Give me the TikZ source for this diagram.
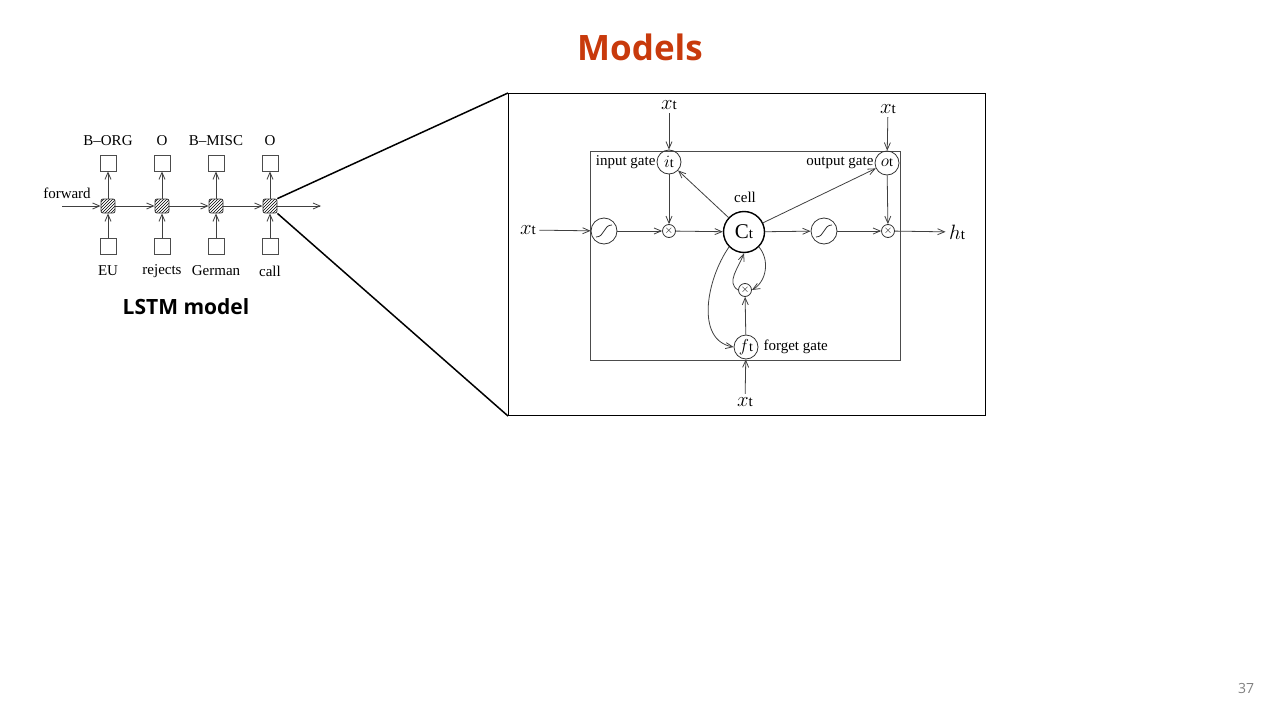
\documentclass[tikz,border=0pt]{standalone}
\usepackage{fontspec}
\setmainfont{Liberation Serif}
\newfontfamily\titlefont{Open Sans}[BoldFont={Open Sans Bold}]
\usetikzlibrary{arrows.meta,patterns,calc}
\definecolor{titlered}{HTML}{C83A0C}
\tikzset{
  lnk/.style={draw=black!75,line width=0.8pt,-{Straight Barb[length=7pt,width=6pt]}},
  tok/.style={draw=black!70,line width=0.8pt,minimum size=16pt,inner sep=0pt},
  lcell/.style={draw=black!80,line width=0.8pt,rounded corners=2pt,minimum size=14pt,inner sep=0pt,pattern=north east lines},
  gate/.style={circle,draw=black!80,line width=0.8pt,minimum size=24pt,inner sep=0pt,font=\fontsize{19}{19}\selectfont},
  mult/.style={circle,draw=black!80,line width=0.8pt,minimum size=13pt,inner sep=0pt,font=\fontsize{11}{11}\selectfont},
  sig/.style={circle,draw=black!80,line width=0.8pt,minimum size=26pt,inner sep=0pt},
  lbl/.style={font=\fontsize{15}{15}\selectfont},
  var/.style={font=\fontsize{21}{21}\selectfont},
}
\newcommand{\sigcurve}[1]{\draw[black!80,line width=0.8pt] ($(#1)+(-8,6)$) .. controls ($(#1)+(1,6)$) and ($(#1)+(-1,-6)$) .. ($(#1)+(8,-6)$);}
\begin{document}
\begin{tikzpicture}[x=1pt,y=-1pt]
  \useasboundingbox (0,0) rectangle (1280,720);
  \node[font=\titlefont\bfseries\fontsize{35}{35}\selectfont,text=titlered] (title) at (640,47) {Models};
  \node[font=\titlefont\color{black!50}\fontsize{14}{14}\selectfont] (pnum) at (1246,688) {37};

  % LSTM chain
  \node[lbl] (fwd) at (67,193) {forward};
  \coordinate (in) at (62,206);
  \coordinate (out) at (321,206);
  \foreach \i/\x/\w/\t in {1/108/EU/B--ORG,2/162/rejects/O,3/216/German/B--MISC,4/270/call/O} {
    \node[lcell] (c\i) at (\x,206) {};
    \node[tok] (up\i) at (\x,163) {};
    \node[tok] (dn\i) at (\x,246) {};
    \node[lbl] (t\i) at (\x,141) {\t};
    \node[lbl] (w\i) at (\x,271) {\w};
    \draw[lnk] (c\i) -- (up\i);
    \draw[lnk] (dn\i) -- (c\i);
  }
  \draw[lnk] (in) -- (c1);
  \draw[lnk] (c1) -- (c2);
  \draw[lnk] (c2) -- (c3);
  \draw[lnk] (c3) -- (c4);
  \draw[lnk] (c4) -- (out);
  \node[font=\titlefont\bfseries\fontsize{21}{21}\selectfont] (cap) at (186,307) {LSTM model};

  % zoom frame
  \node[draw,line width=1pt,minimum width=477pt,minimum height=322pt,anchor=north west,inner sep=0pt] (frame) at (508,93) {};
  \draw[line width=1.5pt] (c4.north east) -- (frame.north west);
  \draw[line width=1.5pt] (c4.south east) -- (frame.south west);

  % memory block
  \draw[black!70,line width=0.9pt] (590,151) rectangle (900,360);
  \node[gate] (it) at (669,162) {$i$\fontsize{14}{14}\selectfont t};
  \node[gate] (ot) at (887,163) {$o$\fontsize{14}{14}\selectfont t};
  \node[gate] (ft) at (746,347) {$f$\fontsize{14}{14}\selectfont t};
  \node[circle,draw,line width=1.4pt,minimum size=41pt,inner sep=0pt,font=\fontsize{21}{21}\selectfont] (ct) at (744,232) {C\fontsize{15}{15}\selectfont t};
  \node[sig] (s1) at (604,231) {};
  \node[sig] (s2) at (824,231) {};
  \sigcurve{s1}
  \sigcurve{s2}
  \node[mult] (m1) at (669,231) {$\times$};
  \node[mult] (m2) at (888,231) {$\times$};
  \node[mult] (m3) at (745,290) {$\times$};
  \node[var] (xi) at (669,105) {$x$\fontsize{15}{15}\selectfont t};
  \node[var] (xo) at (888,109) {$x$\fontsize{15}{15}\selectfont t};
  \node[var] (xl) at (528,230) {$x$\fontsize{15}{15}\selectfont t};
  \node[var] (xf) at (745,402) {$x$\fontsize{15}{15}\selectfont t};
  \node[var] (ht) at (957,232) {$h$\fontsize{15}{15}\selectfont t};
  \node[lbl,anchor=east,inner sep=1pt] (ig) at (it.west) {input gate};
  \node[lbl,anchor=east,inner sep=1pt] (og) at (ot.west) {output gate};
  \node[lbl,anchor=west,inner sep=5pt] (fg) at (ft.east) {forget gate};
  \node[lbl] (cl) at (745,197) {cell};

  \draw[lnk] (xi) -- (it);
  \draw[lnk] (xo) -- (ot);
  \draw[lnk] (xf) -- (ft);
  \draw[lnk] (xl) -- (s1);
  \draw[lnk] (it) -- (m1);
  \draw[lnk] (ot) -- (m2);
  \draw[lnk] (s1) -- (m1);
  \draw[lnk] (m1) -- (ct);
  \draw[lnk] (ct) -- (s2);
  \draw[lnk] (s2) -- (m2);
  \draw[lnk] (m2) -- (ht);
  \draw[lnk] (ct) -- (it);
  \draw[lnk] (ct) -- (ot);
  \draw[lnk] (ft) -- (m3);
  \draw[lnk] (ct.south east) to[out=-50,in=30] (m3.east);
  \draw[lnk] (m3.west) to[out=150,in=-110] (ct.south);
  \draw[lnk] (ct.south west) to[out=-125,in=170] (ft.west);
\end{tikzpicture}
\end{document}
